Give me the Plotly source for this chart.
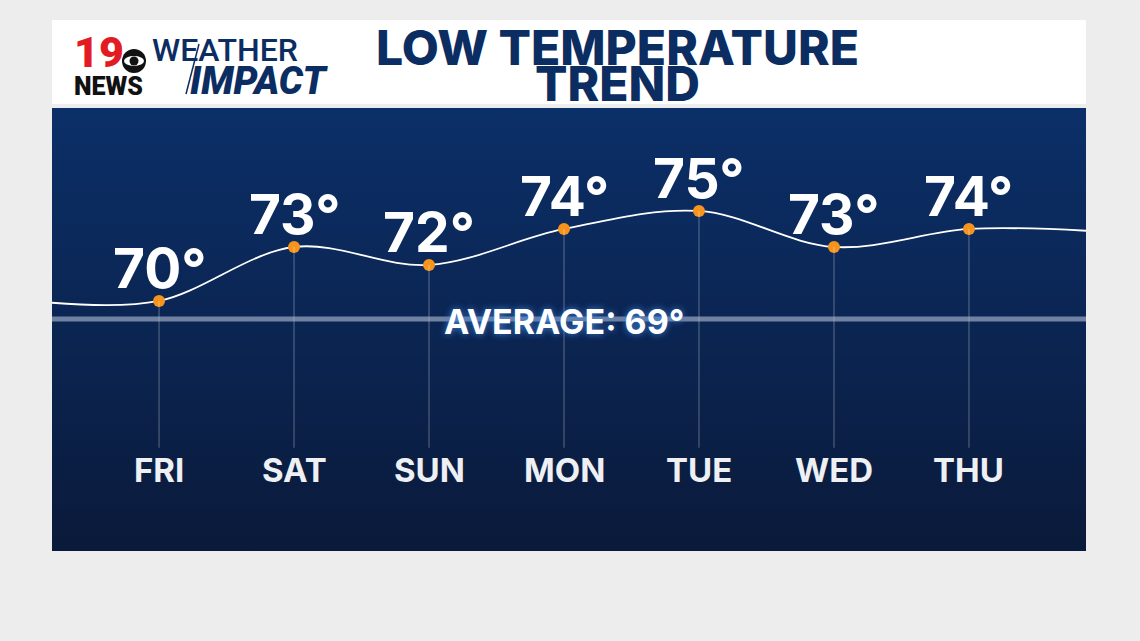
import plotly.graph_objects as go

# ---------------- data ----------------
days = ["FRI", "SAT", "SUN", "MON", "TUE", "WED", "THU"]
lows = [70, 73, 72, 74, 75, 73, 74]
average_low = 69
# curve values where the trend line meets the panel edges
edge_left_value = 69.9
edge_right_value = 73.9

# ---------------- layout helpers ----------------
W, H = 1140, 641
L, R, T, B = 52, 1086, 108, 551          # panel (plot area) in pixels
x_range = [-0.793, 6.867]
y_range = [56.11, 80.72]


def paper_x(px):
    return (px - L) / (R - L)


def paper_y(py):
    return (B - py) / (B - T)


NAVY = "#0c2d62"
FONT = "Inter"

idx = list(range(len(days)))
fig = go.Figure()

# gradient panel background
fig.add_trace(go.Scatter(
    x=[x_range[0], x_range[1], x_range[1], x_range[0], x_range[0]],
    y=[y_range[0], y_range[0], y_range[1], y_range[1], y_range[0]],
    mode="lines", line=dict(width=0), fill="toself",
    fillgradient=dict(type="vertical",
                      colorscale=[[0, "#0a1a3a"], [0.45, "#0b2450"], [1, "#0b2f68"]]),
    hoverinfo="skip", showlegend=False,
))

shapes = []
# vertical guide lines from each point down toward the day labels
guide_bottom = 61.85
for i, v in zip(idx, lows):
    shapes.append(dict(type="line", xref="x", yref="y", x0=i, x1=i, y0=guide_bottom, y1=v,
                       line=dict(color="rgba(255,255,255,0.28)", width=1.2), layer="above"))

# average line
shapes.append(dict(type="line", xref="x", yref="y", x0=x_range[0], x1=x_range[1],
                   y0=average_low, y1=average_low,
                   line=dict(color="rgba(175,188,210,0.62)", width=5), layer="above"))

# smooth trend curve
fig.add_trace(go.Scatter(
    x=[x_range[0]] + idx + [x_range[1]],
    y=[edge_left_value] + lows + [edge_right_value],
    mode="lines", line=dict(color="white", width=1.8, shape="spline", smoothing=1.0),
    hoverinfo="skip", showlegend=False,
))

# orange points
fig.add_trace(go.Scatter(
    x=idx, y=lows, mode="markers",
    marker=dict(color="#f7941d", size=12, line=dict(width=0)),
    hoverinfo="skip", showlegend=False,
))

annotations = []
# value labels
for i, v in zip(idx, lows):
    annotations.append(dict(
        x=i, y=v, xref="x", yref="y", text=f"{v}°", showarrow=False,
        yanchor="bottom", xanchor="center", yshift=-2,
        font=dict(family=FONT, size=55, color="white", weight=700),
    ))
# day labels
for i, d in zip(idx, days):
    annotations.append(dict(
        x=i, y=60.6, xref="x", yref="y", text=d, showarrow=False,
        yanchor="middle", xanchor="center",
        font=dict(family=FONT, size=33, color="#eef0f4", weight=700),
    ))
# average label
annotations.append(dict(
    x=3.0, y=average_low, xref="x", yref="y", text=f"AVERAGE: {average_low}°",
    showarrow=False, yanchor="middle", xanchor="center", yshift=-3,
    font=dict(family=FONT, size=34, color="white", weight=700,
              shadow="0px 0px 7px #3d7fd6"),
))

# title
annotations.append(dict(x=paper_x(617), y=paper_y(47), xref="paper", yref="paper",
                        text="LOW TEMPERATURE", showarrow=False, xanchor="center", yanchor="middle",
                        font=dict(family=FONT, size=48, color=NAVY, weight=800)))
annotations.append(dict(x=paper_x(617), y=paper_y(84), xref="paper", yref="paper",
                        text="TREND", showarrow=False, xanchor="center", yanchor="middle",
                        font=dict(family=FONT, size=48, color=NAVY, weight=800)))

# logo texts
NARROW = "Roboto"
annotations.append(dict(x=paper_x(72), y=paper_y(52), xref="paper", yref="paper",
                        text="19", showarrow=False, xanchor="left", yanchor="middle",
                        font=dict(family=NARROW, size=43, color="#e31b23", weight=900)))
annotations.append(dict(x=paper_x(72), y=paper_y(86), xref="paper", yref="paper",
                        text="NEWS", showarrow=False, xanchor="left", yanchor="middle",
                        font=dict(family=NARROW, size=25, color="#111111", weight=900)))
annotations.append(dict(x=paper_x(150), y=paper_y(50), xref="paper", yref="paper",
                        text="WEATHER", showarrow=False, xanchor="left", yanchor="middle",
                        font=dict(family=NARROW, size=32, color=NAVY, weight=500)))
annotations.append(dict(x=paper_x(188), y=paper_y(81), xref="paper", yref="paper",
                        text="<i>IMPACT</i>", showarrow=False, xanchor="left", yanchor="middle",
                        font=dict(family=NARROW, size=38, color=NAVY, weight=900)))

shapes += [
    # header white box
    dict(type="rect", xref="paper", yref="paper", x0=0, x1=1,
         y0=paper_y(104), y1=paper_y(20), fillcolor="white", line=dict(width=0), layer="below"),
    # CBS eye
    dict(type="circle", xref="paper", yref="paper",
         x0=paper_x(122), x1=paper_x(146), y0=paper_y(73), y1=paper_y(49),
         fillcolor="#111111", line=dict(width=0)),
    dict(type="circle", xref="paper", yref="paper",
         x0=paper_x(124), x1=paper_x(144), y0=paper_y(66), y1=paper_y(56),
         fillcolor="white", line=dict(width=0)),
    dict(type="circle", xref="paper", yref="paper",
         x0=paper_x(129.5), x1=paper_x(138.5), y0=paper_y(65.5), y1=paper_y(56.5),
         fillcolor="#111111", line=dict(width=0)),
    # lightning slash in logo
    dict(type="line", xref="paper", yref="paper",
         x0=paper_x(199), x1=paper_x(186), y0=paper_y(44), y1=paper_y(94),
         line=dict(color=NAVY, width=1.5)),
]

fig.update_layout(
    width=W, height=H,
    margin=dict(l=L, r=W - R, t=T, b=H - B, pad=0),
    paper_bgcolor="#ededed", plot_bgcolor="#0b2553",
    xaxis=dict(range=x_range, visible=False, fixedrange=True),
    yaxis=dict(range=y_range, visible=False, fixedrange=True),
    showlegend=False, hovermode=False,
    annotations=annotations, shapes=shapes,
)

fig.write_html("out.html", config={"displayModeBar": False},
               post_script="document.body.style.margin='0';")
